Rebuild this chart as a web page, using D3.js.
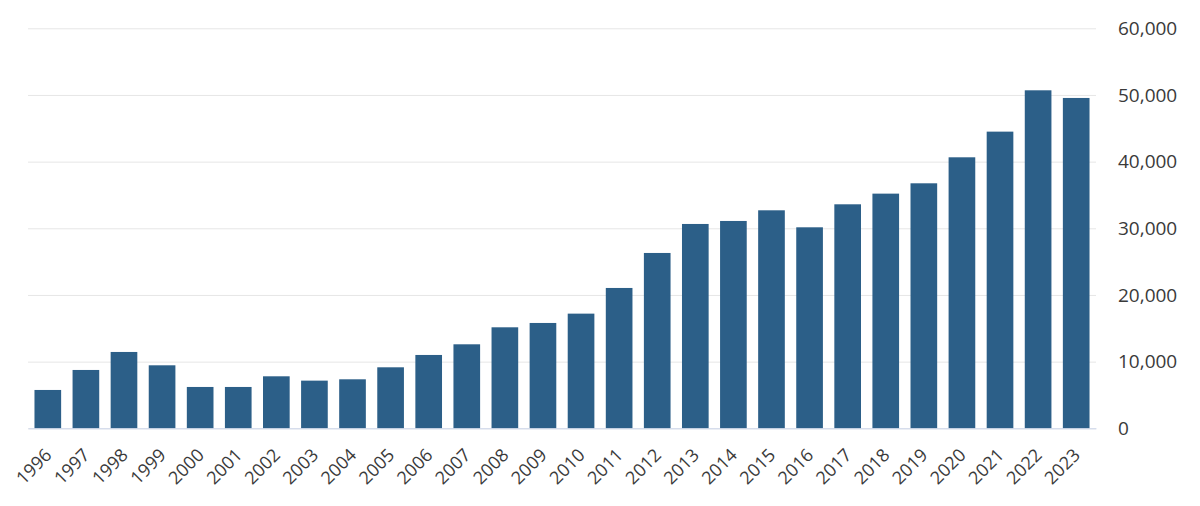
<!DOCTYPE html>
<html>
<head>
<meta charset="utf-8">
<script src="https://cdn.jsdelivr.net/npm/d3@7/dist/d3.min.js"></script>
<style>
  body { margin: 0; background: #fff; }
  svg text { font-family: "Open Sans", "Noto Sans", sans-serif; fill: #3a3a3a; }
</style>
</head>
<body>
<svg></svg>
<script>
var width = 1200;
var height = 506;

var years = ["1996", "1997", "1998", "1999", "2000", "2001", "2002", "2003", "2004", "2005",
             "2006", "2007", "2008", "2009", "2010", "2011", "2012", "2013", "2014", "2015",
             "2016", "2017", "2018", "2019", "2020", "2021", "2022", "2023"];

var values = [5750, 8750, 11450, 9450, 6200, 6200, 7800, 7150, 7350, 9150,
              11000, 12600, 15150, 15800, 17200, 21050, 26300, 30650, 31100, 32700,
              30150, 33600, 35200, 36750, 40650, 44500, 50700, 49550];

var yTicks = [0, 10000, 20000, 30000, 40000, 50000, 60000];

// plot area (window.top is reserved, so no "top" here)
var plotLeft = 28, plotRight = 1096, plotTop = 28.3, plotBottom = 428.3;

var xScale = d3.scaleBand()
    .domain(years)
    .range([plotLeft, plotRight])
    .paddingInner(0.3)
    .paddingOuter(0.17);

var yScale = d3.scaleLinear()
    .domain([0, 60000])
    .range([plotBottom, plotTop]);

var svg = d3.select("svg")
    .attr("width", width)
    .attr("height", height);

// gridlines + labels on the right
var yAxis = d3.axisRight(yScale)
    .tickValues(yTicks)
    .tickSize(-(plotRight - plotLeft))
    .tickPadding(22)
    .tickFormat(d3.format(","));

var gy = svg.append("g")
    .attr("transform", "translate(" + plotRight + ",0)")
    .call(yAxis);
gy.select(".domain").remove();
gy.selectAll(".tick line").attr("stroke", "#e6e6e6");
gy.selectAll(".tick text")
    .style("font-size", "19px")
    .attr("fill", "#3a3a3a");

// bars
svg.selectAll("rect.bar")
    .data(values)
    .enter()
    .append("rect")
        .attr("class", "bar")
        .attr("x", (d, i) => xScale(years[i]))
        .attr("y", d => yScale(d))
        .attr("width", xScale.bandwidth())
        .attr("height", d => yScale(0) - yScale(d))
        .attr("fill", "#2c5f88");

// x axis
var xAxis = d3.axisBottom(xScale)
    .tickSize(0)
    .tickSizeOuter(0);

var gx = svg.append("g")
    .attr("transform", "translate(0," + plotBottom + ")")
    .call(xAxis);
gx.select(".domain").attr("stroke", "#ccd6eb");
gx.selectAll(".tick text")
    .style("font-size", "18px")
    .attr("fill", "#3a3a3a")
    .attr("text-anchor", "end")
    .attr("dy", null)
    .attr("y", 0)
    .attr("transform", "translate(5,28) rotate(-45)");
</script>
</body>
</html>
